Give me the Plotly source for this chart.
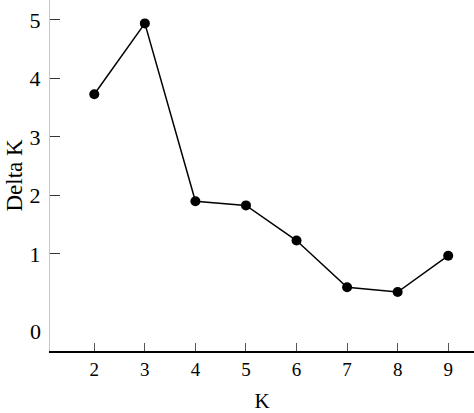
import plotly.graph_objects as go

k_values = [2, 3, 4, 5, 6, 7, 8, 9]
delta_k = [3.73, 4.94, 1.90, 1.83, 1.23, 0.43, 0.35, 0.97]
y_tick_vals = [1, 2, 3, 4, 5]
y_tick_text = ["1", "2", "3", "4", "5"]
zero_label = "0"
zero_label_pos = -0.33

FONT = "Liberation Serif, Times New Roman, serif"

fig = go.Figure()
fig.add_trace(go.Scatter(
    x=k_values, y=delta_k, mode="lines+markers",
    line=dict(color="black", width=1.5),
    marker=dict(color="black", size=10),
    showlegend=False,
))

fig.update_layout(
    width=474, height=413,
    margin=dict(l=50, r=0, t=0, b=62),
    paper_bgcolor="white", plot_bgcolor="white",
    font=dict(family=FONT, color="black"),
    xaxis=dict(
        range=[1.124, 9.51], tickvals=k_values,
        ticks="inside", ticklen=8, tickwidth=1, tickcolor="#555",
        showline=True, linecolor="black", linewidth=2,
        showgrid=False, zeroline=False, automargin=False,
        tickfont=dict(family=FONT, size=19, color="black"),
        title=dict(text="K", font=dict(family=FONT, size=21), standoff=17),
    ),
    yaxis=dict(
        range=[-0.658, 5.34], tickvals=y_tick_vals, ticktext=y_tick_text,
        ticks="inside", ticklen=10, tickwidth=1, tickcolor="#333",
        showline=True, linecolor="#c8c8c8", linewidth=1,
        showgrid=False, zeroline=False, automargin=False,
        tickfont=dict(family=FONT, size=22, color="black"),
        ticklabelstandoff=4,
        title=dict(text="Delta K", font=dict(family=FONT, size=23), standoff=0),
    ),
    annotations=[dict(
        text=zero_label, xref="paper", yref="y", x=0, y=zero_label_pos,
        xanchor="right", yanchor="middle", xshift=-7, showarrow=False,
        font=dict(family=FONT, size=22, color="black"),
    )],
)

fig.write_html(
    "out.html",
    config={"displayModeBar": False},
    post_script="document.body.style.margin='0';document.body.style.overflow='hidden';",
)
